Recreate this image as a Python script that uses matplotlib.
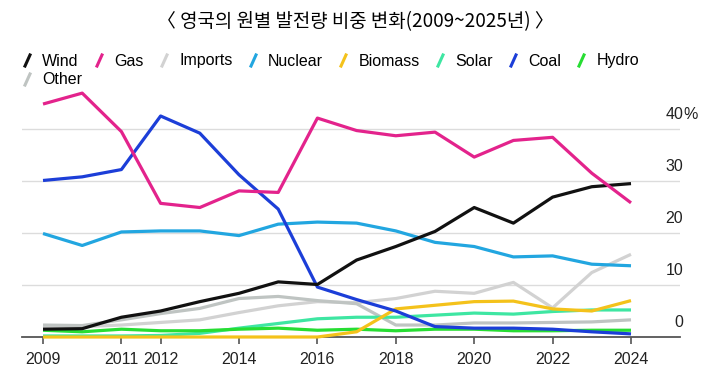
import matplotlib.pyplot as plt
from matplotlib.lines import Line2D

plt.rcParams['font.family'] = ['Liberation Sans', 'DejaVu Sans']

years = list(range(2009, 2025))

wind = [1.5, 1.6, 3.8, 5.0, 6.8, 8.4, 10.6, 10.1, 14.8, 17.4, 20.3, 24.9, 21.9, 26.9, 28.9, 29.5]
gas = [44.8, 46.9, 39.5, 25.7, 24.9, 28.1, 27.8, 42.1, 39.7, 38.7, 39.4, 34.6, 37.8, 38.4, 31.5, 25.8]
imports = [2.0, 2.0, 2.3, 2.8, 3.3, 4.7, 6.0, 6.8, 6.6, 7.4, 8.8, 8.4, 10.5, 5.6, 12.4, 15.9]
nuclear = [19.9, 17.6, 20.2, 20.4, 20.4, 19.5, 21.7, 22.1, 21.9, 20.4, 18.2, 17.4, 15.4, 15.6, 14.0, 13.7]
biomass = [0.0, 0.0, 0.0, 0.0, 0.0, 0.0, 0.0, 0.0, 1.0, 5.4, 6.1, 6.8, 6.9, 5.4, 5.0, 7.0]
solar = [0.2, 0.2, 0.2, 0.3, 0.7, 1.7, 2.6, 3.5, 3.8, 3.8, 4.2, 4.6, 4.4, 4.9, 5.2, 5.2]
coal = [30.1, 30.8, 32.2, 42.5, 39.2, 31.2, 24.6, 9.6, 7.2, 5.0, 2.0, 1.7, 1.7, 1.5, 1.0, 0.6]
hydro = [1.3, 1.0, 1.5, 1.2, 1.2, 1.5, 1.7, 1.3, 1.5, 1.2, 1.5, 1.5, 1.2, 1.2, 1.3, 1.3]
other = [2.3, 2.2, 3.3, 4.5, 5.5, 7.4, 7.8, 7.0, 6.4, 2.3, 2.3, 2.7, 2.7, 2.8, 2.9, 3.3]

names = ['Wind', 'Gas', 'Imports', 'Nuclear', 'Biomass', 'Solar', 'Coal', 'Hydro', 'Other']
colors = ['#111111', '#e3238c', '#d2d2d2', '#22a6e0', '#f4c21b', '#3ee6a2', '#1c3ed8', '#27dd33', '#bfc4c2']
series = [wind, gas, imports, nuclear, biomass, solar, coal, hydro, other]

xticks = [2009, 2011, 2012, 2014, 2016, 2018, 2020, 2022, 2024]
yticks = [0, 10, 20, 30, 40]
ylabels = ['0', '10', '20', '30', '40%']

fig = plt.figure(figsize=(7.1, 3.76), dpi=100)
ax = fig.add_axes([22/710, 39/376, 658/710, 260/376])

# draw order: light ones first, so dark ones sit on top
order = [2, 8, 5, 7, 4, 3, 6, 0, 1]
for i in order:
    ax.plot(years, series[i], color=colors[i], lw=2.3, clip_on=False, solid_capstyle='butt', zorder=3)

ax.set_xlim(2008.464, 2025.25)
ax.set_ylim(0, 50)

for s in ['top', 'right', 'left']:
    ax.spines[s].set_visible(False)
ax.spines['bottom'].set_color('#555555')
ax.spines['bottom'].set_linewidth(1.3)

ax.set_yticks([10, 20, 30, 40])
ax.yaxis.grid(True, color='#dcdcdc', lw=1)
ax.tick_params(axis='y', length=0, labelleft=False)
ax.set_axisbelow(True)

ax.set_xticks(xticks)
ax.set_xticklabels([str(x) for x in xticks])
ax.tick_params(axis='x', length=5, width=1.2, color='#555555', pad=6, labelsize=11.5, labelcolor='#222222')

trans = ax.get_yaxis_transform()
for v, lab in zip(yticks, ylabels):
    ax.text(1.0046, v + 2.8, lab.replace('%', ''), transform=trans, ha='right', va='center',
            fontsize=11.5, color='#222222')
    if lab.endswith('%'):
        ax.text(1.0046, v + 2.8, '%', transform=trans, ha='left', va='center', fontsize=11.5, color='#222222')

fig.text(0.5, 1 - 22/376, '〈 영국의 원별 발전량 비중 변화(2009~2025년) 〉', ha='center', va='center',
         fontsize=13.6, family=['Noto Sans CJK KR', 'DejaVu Sans'])

handles = []
for n, c in zip(names, colors):
    handles.append(Line2D([], [], linestyle='none', marker=[(-0.45, -1), (0.45, 1)], markersize=10,
                          markeredgewidth=2.2, markeredgecolor=c, markerfacecolor=c, label=n))

fig.legend(handles=handles[:8], loc='center left', bbox_to_anchor=(20/710, 1 - 61/376), ncol=8,
           frameon=False, borderpad=0, borderaxespad=0, handlelength=0.9, handletextpad=0.5,
           columnspacing=0.82, fontsize=11.5)
fig.legend(handles=handles[8:], loc='center left', bbox_to_anchor=(20/710, 1 - 80/376), ncol=1,
           frameon=False, borderpad=0, borderaxespad=0, handlelength=0.9, handletextpad=0.5, fontsize=11.5)

fig.savefig('out.png', dpi=100)
